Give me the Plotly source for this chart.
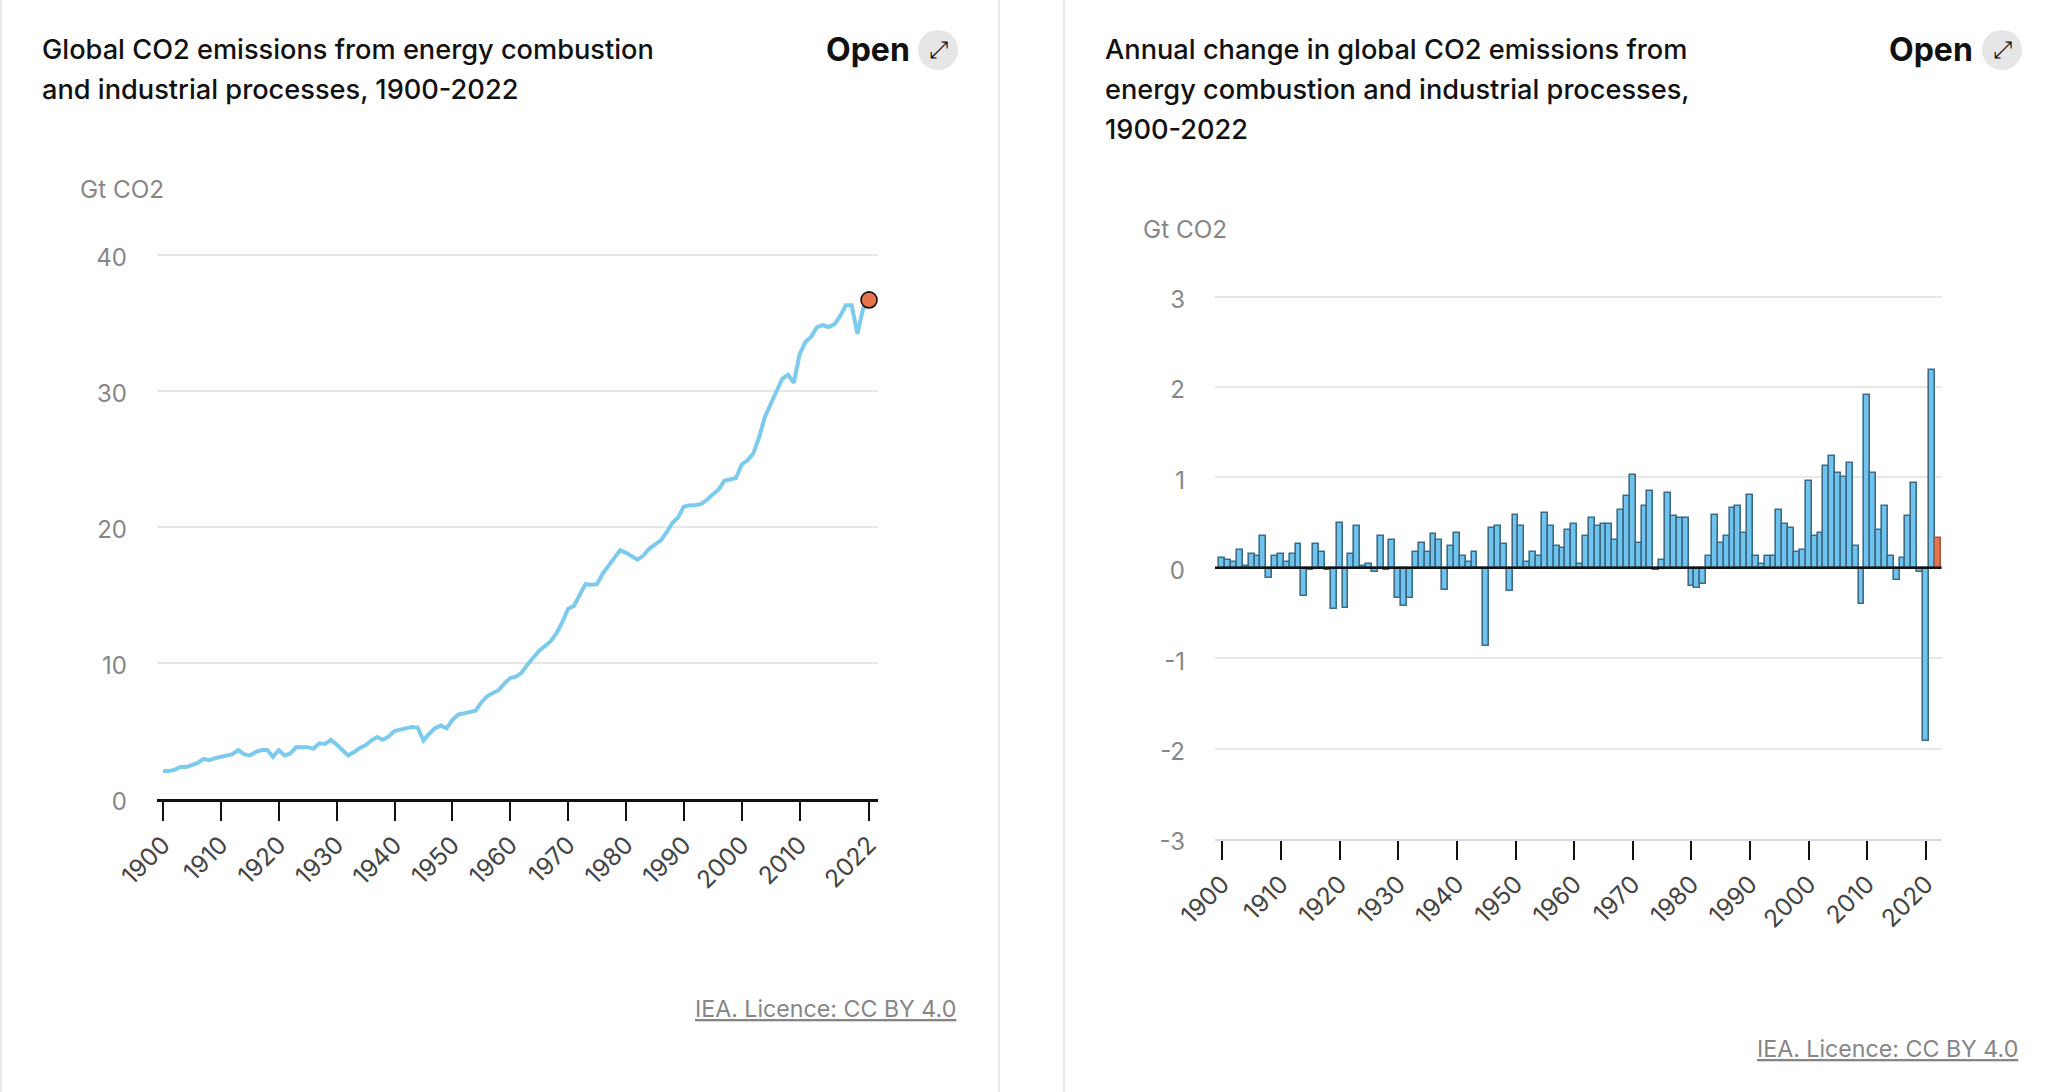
import plotly.graph_objects as go

W, H = 2048, 1092

years = list(range(1900, 2023))

emissions = [
    2.05, 2.05, 2.15, 2.35, 2.35, 2.5, 2.65, 2.95, 2.85, 3.0,
    3.1, 3.2, 3.3, 3.6, 3.3, 3.2, 3.45, 3.6, 3.6, 3.1,
    3.6, 3.2, 3.35, 3.8, 3.8, 3.8, 3.7, 4.1, 4.05, 4.35,
    4.0, 3.6, 3.2, 3.45, 3.75, 3.95, 4.3, 4.55, 4.35, 4.6,
    5.0, 5.1, 5.2, 5.3, 5.25, 4.3, 4.8, 5.2, 5.4, 5.2,
    5.8, 6.2, 6.3, 6.4, 6.5, 7.1, 7.55, 7.8, 8.0, 8.5,
    8.9, 9.0, 9.3, 9.9, 10.4, 10.9, 11.25, 11.6, 12.2, 13.0,
    14.0, 14.2, 15.0, 15.8, 15.75, 15.8, 16.6, 17.2, 17.7, 18.3,
    18.1, 17.85, 17.6, 17.9, 18.4, 18.7, 19.0, 19.6, 20.3, 20.7,
    21.5, 21.6, 21.6, 21.7, 22.0, 22.4, 22.75, 23.4, 23.5, 23.6,
    24.6, 24.9, 25.4, 26.6, 28.1, 29.0, 29.9, 30.9, 31.2, 30.6,
    32.7, 33.6, 34.0, 34.7, 34.85, 34.7, 34.9, 35.5, 36.3, 36.3,
    34.2, 36.1, 36.7,
]

annual_change = [
    0.11, 0.09, 0.07, 0.20, 0.02, 0.15, 0.13, 0.35, -0.11, 0.13,
    0.15, 0.07, 0.15, 0.26, -0.31, -0.02, 0.26, 0.18, -0.02, -0.46,
    0.50, -0.44, 0.15, 0.46, 0.02, 0.04, -0.05, 0.35, -0.02, 0.31,
    -0.33, -0.42, -0.33, 0.18, 0.28, 0.18, 0.37, 0.31, -0.24, 0.24,
    0.39, 0.13, 0.07, 0.18, 0.0, -0.87, 0.44, 0.46, 0.26, -0.26,
    0.59, 0.46, 0.07, 0.18, 0.13, 0.61, 0.46, 0.24, 0.22, 0.42,
    0.48, 0.04, 0.35, 0.55, 0.46, 0.48, 0.48, 0.31, 0.64, 0.79,
    1.03, 0.28, 0.68, 0.85, -0.02, 0.09, 0.83, 0.57, 0.55, 0.55,
    -0.20, -0.22, -0.18, 0.13, 0.59, 0.28, 0.35, 0.66, 0.68, 0.39,
    0.81, 0.13, 0.04, 0.13, 0.13, 0.64, 0.48, 0.44, 0.18, 0.20,
    0.96, 0.35, 0.39, 1.13, 1.24, 1.05, 1.00, 1.16, 0.24, -0.40,
    1.91, 1.05, 0.42, 0.68, 0.13, -0.13, 0.11, 0.57, 0.94, -0.05,
    -1.92, 2.19, 0.33,
]

left_xticks = [1900, 1910, 1920, 1930, 1940, 1950, 1960, 1970, 1980, 1990, 2000, 2010, 2022]
right_xticks = [1900, 1910, 1920, 1930, 1940, 1950, 1960, 1970, 1980, 1990, 2000, 2010, 2020]
left_yticks = [0, 10, 20, 30, 40]
right_yticks = [-3, -2, -1, 0, 1, 2, 3]

left_title = ["Global CO2 emissions from energy combustion", "and industrial processes, 1900-2022"]
right_title = ["Annual change in global CO2 emissions from", "energy combustion and industrial processes,", "1900-2022"]
unit_label = "Gt CO2"
open_label = "Open"
open_icon = "\u2922"
licence = "IEA. Licence: CC BY 4.0"

FONT = "Inter"
BLUE = "#7ccbef"
BAR_BLUE = "#6fc4ef"
BAR_EDGE = "#3e6c86"
ORANGE = "#e8734d"
GRID = "#e8e8e8"
GREY = "#868686"
INK = "#111111"


def px(x):
    return x / W


def py(y):
    return 1 - y / H


fig = go.Figure()

fig.add_trace(go.Scatter(
    x=years, y=emissions, mode="lines", xaxis="x", yaxis="y",
    line=dict(color=BLUE, width=4), showlegend=False,
))
fig.add_trace(go.Scatter(
    x=years[-1:], y=emissions[-1:], mode="markers", xaxis="x", yaxis="y",
    marker=dict(color=ORANGE, size=16, line=dict(color="#111111", width=1.6)),
    showlegend=False, cliponaxis=False,
))
fig.add_trace(go.Bar(
    x=years, y=annual_change, xaxis="x2", yaxis="y2", width=1.0,
    marker=dict(color=[BAR_BLUE] * 122 + [ORANGE], line=dict(color=[BAR_EDGE] * 122 + ["#9c5a42"], width=1.6)),
    showlegend=False,
))

common_x = dict(
    tickmode="array", tickangle=-45, ticks="outside", ticklen=19, tickwidth=2, tickcolor="#111111",
    showgrid=False, zeroline=False, showline=True, automargin=False,
    tickfont=dict(family=FONT, size=24.5, color="#444444"),
)
common_y = dict(
    tickmode="array", ticks="", showgrid=True, gridcolor=GRID, gridwidth=2, automargin=False,
    showline=False, tickfont=dict(family=FONT, size=24, color=GREY),
    ticklabelstandoff=29, ticklabelshift=3,
)

annotations = []


def text(x, y, s, size, color=INK, weight=400, xanchor="left", family=FONT):
    annotations.append(dict(
        xref="paper", yref="paper", x=px(x), y=py(y), text=s, showarrow=False,
        xanchor=xanchor, yanchor="middle", align=xanchor,
        font=dict(family=family, size=size, color=color, weight=weight),
    ))


for i, line in enumerate(left_title):
    text(39.5, 50 + 39.3 * i, line, 27.2, weight=500)
for i, line in enumerate(right_title):
    text(1102.5, 50 + 39.5 * i, line, 27.2, weight=500)

text(78, 189, unit_label, 24.3, GREY)
text(1141, 228.5, unit_label, 24.3, GREY)
text(911.5, 50, open_label, 32, "#111111", 700, "right")
text(1974.5, 50, open_label, 32, "#111111", 700, "right")
text(938, 50, open_icon, 24, "#111111", 400, "center", "DejaVu Sans")
text(2002, 50, open_icon, 24, "#111111", 400, "center", "DejaVu Sans")
text(958, 1009, f"<u>{licence}</u>", 23.2, GREY, 400, "right")
text(2020, 1049, f"<u>{licence}</u>", 23.2, GREY, 400, "right")

shapes = [
    dict(type="line", xref="paper", yref="paper", x0=px(1), x1=px(1), y0=0, y1=1, line=dict(color=GRID, width=2)),
    dict(type="line", xref="paper", yref="paper", x0=px(999), x1=px(999), y0=0, y1=1, line=dict(color=GRID, width=2)),
    dict(type="line", xref="paper", yref="paper", x0=px(1064), x1=px(1064), y0=0, y1=1, line=dict(color=GRID, width=2)),
    dict(type="circle", xref="paper", yref="paper", x0=px(918), x1=px(958), y0=py(70), y1=py(30),
         fillcolor="#e6e6e6", line=dict(width=0), layer="below"),
    dict(type="circle", xref="paper", yref="paper", x0=px(1982), x1=px(2022), y0=py(70), y1=py(30),
         fillcolor="#e6e6e6", line=dict(width=0), layer="below"),
    dict(type="line", xref="x2 domain", yref="y2", x0=0, x1=1, y0=0, y1=0, layer="above",
         line=dict(color="#111111", width=2.5)),
]

fig.update_layout(
    width=W, height=H, margin=dict(l=0, r=0, t=0, b=0, pad=0),
    paper_bgcolor="white", plot_bgcolor="white",
    bargap=0, barmode="overlay", showlegend=False,
    annotations=annotations, shapes=shapes,
    xaxis=dict(common_x, domain=[px(157), px(878)], range=[1898.96, 2023.55],
               tickvals=left_xticks, ticktext=[str(v) for v in left_xticks],
               linecolor="#111111", linewidth=2.5, anchor="y"),
    yaxis=dict(common_y, domain=[py(799), py(253)], range=[0, 40.15], zeroline=False,
               tickvals=left_yticks, ticktext=[str(v) for v in left_yticks], anchor="x"),
    xaxis2=dict(common_x, domain=[px(1215), px(1941.6)], range=[1898.75, 2022.66],
                tickvals=right_xticks, ticktext=[str(v) for v in right_xticks],
                linecolor="#d5dbe8", linewidth=2, anchor="y2"),
    yaxis2=dict(common_y, domain=[py(839), py(294)], range=[-3, 3.03], zeroline=False,
                tickvals=right_yticks, ticktext=[str(v) for v in right_yticks], anchor="x2"),
)

fig.write_html("out.html", config={"displayModeBar": False},
               post_script="document.body.style.margin='0';document.documentElement.style.overflow='hidden';")
